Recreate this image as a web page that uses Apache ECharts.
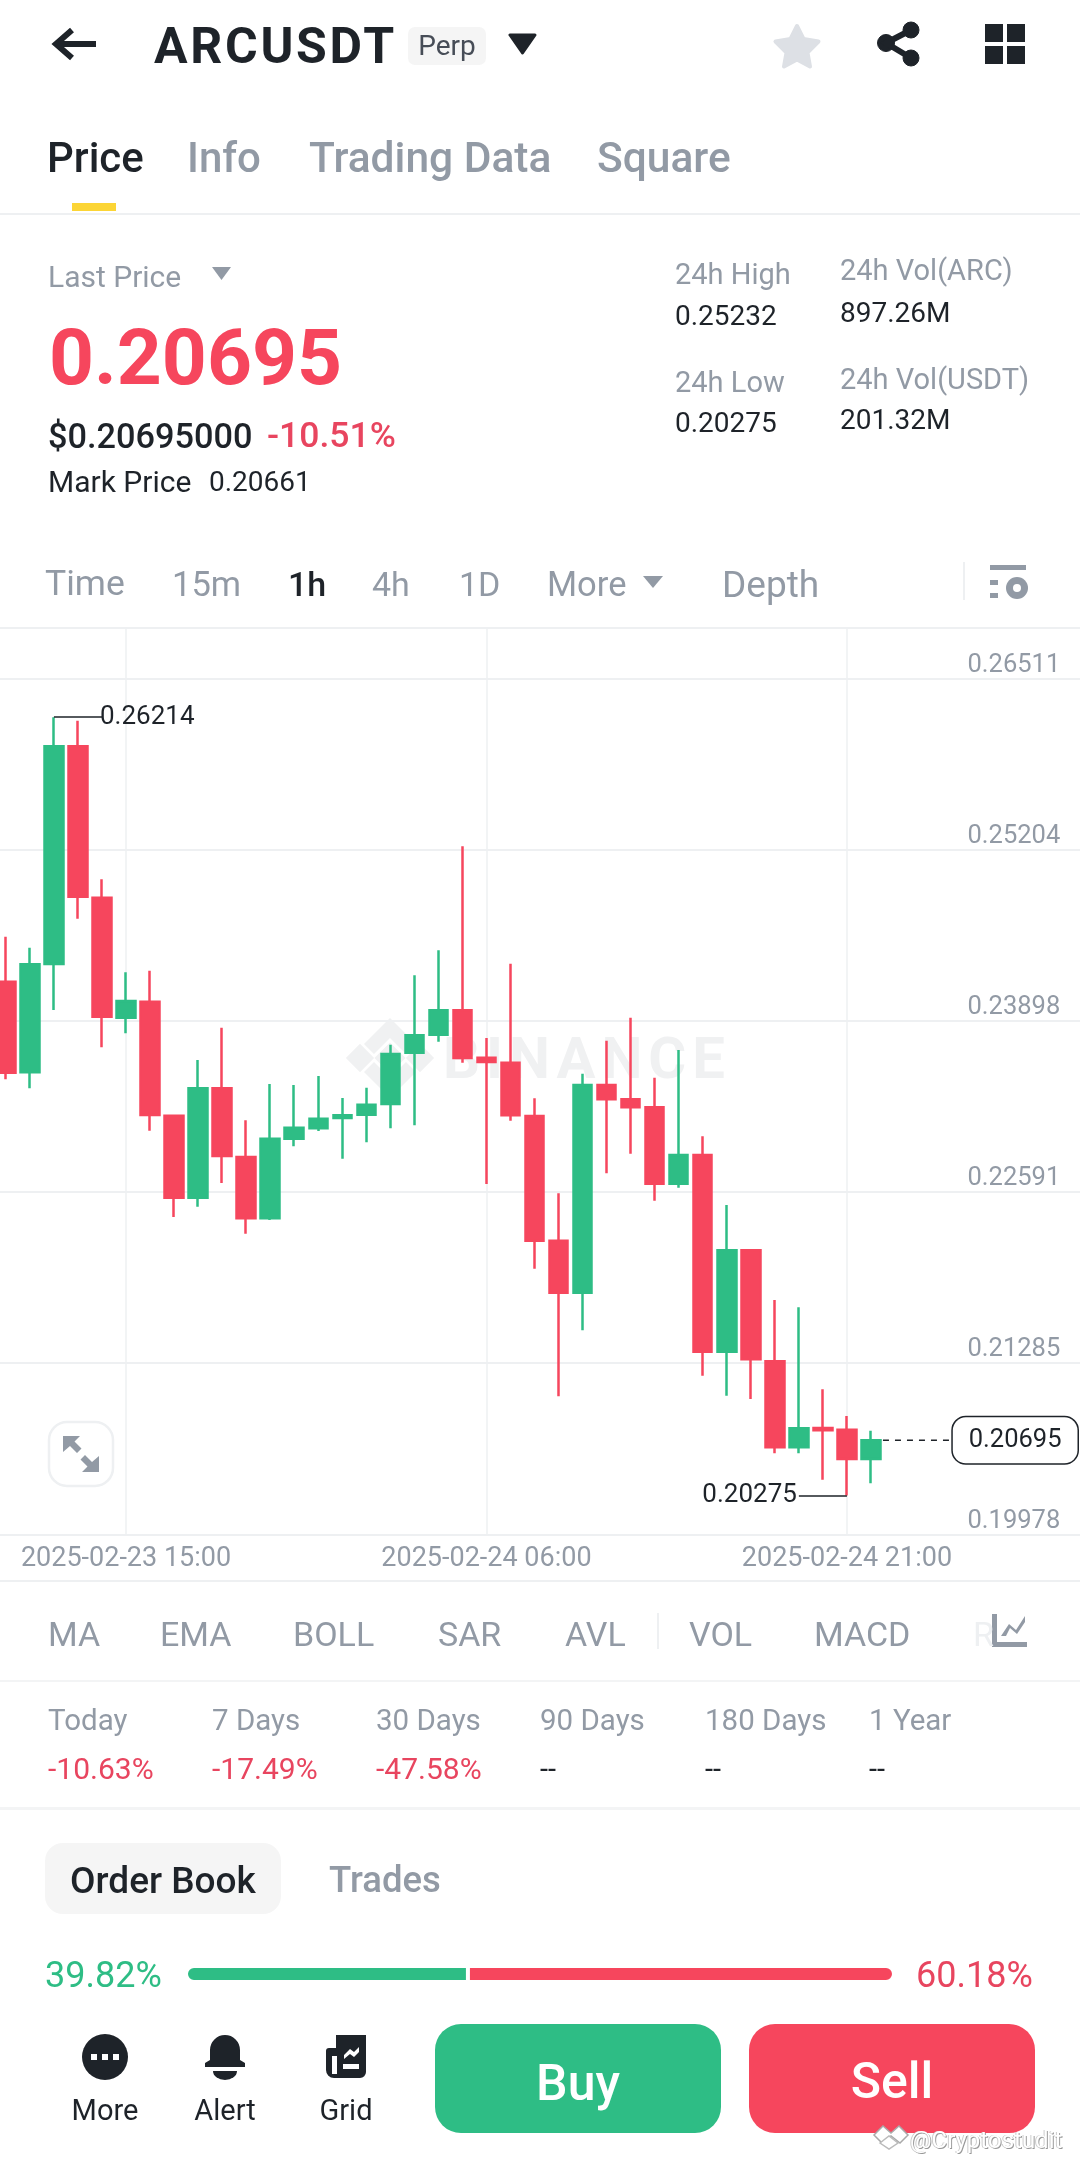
<!DOCTYPE html>
<html>
<head>
<meta charset="utf-8">
<title>ARCUSDT Perp</title>
<script src="https://cdn.jsdelivr.net/npm/echarts@6/dist/echarts.min.js"></script>
<style>
html,body{margin:0;padding:0;background:#fff;}
#page{position:relative;width:1080px;height:2160px;overflow:hidden;font-family:Roboto,sans-serif;color:#1E2329;}
#main{position:absolute;left:0;top:0;width:1080px;height:2160px;z-index:2;}
#logo{position:absolute;left:0;top:0;z-index:1;}
#icons{position:absolute;left:0;top:0;z-index:3;}
.t{position:absolute;white-space:nowrap;line-height:1;transform:translateY(-50%);z-index:4;}
.c{transform:translate(-50%,-50%);}
.g{color:#929AA5;}
.m{font-weight:500;}
.r{color:#E8455F;}
.hr{position:absolute;left:0;width:1080px;background:#EEF0F2;z-index:1;}
#chip1{position:absolute;left:408px;top:27px;width:78px;height:38px;background:#F5F5F5;border-radius:7px;}
#chip2{position:absolute;left:45px;top:1843px;width:236px;height:71px;background:#F5F5F5;border-radius:18px;}
#under{position:absolute;left:72px;top:203px;width:44px;height:8px;background:#FCD535;z-index:2;}
.btn{position:absolute;top:2024px;width:286px;height:109px;border-radius:26px;z-index:1;}
#wm{position:absolute;left:443px;top:1058px;transform:translateY(-50%);font-size:58px;font-weight:700;line-height:1;color:#F0F1F2;letter-spacing:6px;z-index:1;}
#mark{color:#fff;text-shadow:1px 1px 0 #999,-1px 0 0 #ccc;font-size:24px;}
</style>
</head>
<body>
<div id="page">
  <div id="chip1"></div><div id="chip2"></div><div id="under"></div>
  <div class="hr" style="top:213px;height:2px"></div>
  <div class="hr" style="top:627px;height:2px"></div>
  <div class="hr" style="top:1580px;height:2px"></div>
  <div class="hr" style="top:1680px;height:2px;background:#F3F4F5"></div>
  <div class="hr" style="top:1807px;height:3px;background:#F3F4F5"></div>
  <div id="wm">BINANCE</div>
  <svg id="logo" width="1080" height="2160" viewBox="0 0 1080 2160">
    <g fill="#F0F1F2">
      <rect x="350" y="1048" width="20" height="20" transform="rotate(45 360 1058)"/>
      <rect x="379" y="1047" width="22" height="22" transform="rotate(45 390 1058)"/>
      <rect x="410" y="1048" width="20" height="20" transform="rotate(45 420 1058)"/>
      <path d="M390 1018l26 26-10 10-16-16-16 16-10-10z"/>
      <path d="M390 1098l26-26-10-10-16 16-16-16-10 10z"/>
    </g>
  </svg>
  <div class="btn" style="left:435px;background:#2EBD85"></div>
  <div class="btn" style="left:749px;background:#F6465D"></div>

  <div id="main"></div>

  <svg id="icons" width="1080" height="2160" viewBox="0 0 1080 2160">
    <!-- back arrow -->
    <path d="M96 44H58M72 30L56 44l16 14" fill="none" stroke="#1E2329" stroke-width="6"/>
    <!-- dropdowns -->
    <path d="M510 35h25l-12.500 18z" fill="#1E2329" stroke="#1E2329" stroke-width="3" stroke-linejoin="round"/>
    <path d="M212 267h19l-9.500 13z" fill="#929AA5"/>
    <path d="M643 576h20l-10 12z" fill="#929AA5"/>
    <!-- star -->
    <path d="M797 26l6.500 13 15 2.500-11 11 2.500 14-13-7-13 7 2.500-14-11-11 15-2.500z" fill="#DDE0E5" stroke="#DDE0E5" stroke-width="4" stroke-linejoin="round"/>
    <!-- share -->
    <g fill="#1E2329" stroke="#1E2329"><circle cx="911" cy="30" r="8"/><circle cx="886" cy="43" r="8.500"/><circle cx="911" cy="58" r="8"/><path d="M911 30L886 43l25 15" fill="none" stroke-width="6"/></g>
    <!-- grid squares -->
    <g fill="#1E2329"><rect x="985" y="24" width="18" height="18"/><rect x="1007" y="24" width="18" height="18"/><rect x="985" y="46" width="18" height="18"/><rect x="1007" y="46" width="18" height="18"/></g>
    <!-- chart settings -->
    <path d="M964 562v38" stroke="#EEF0F2" stroke-width="2"/>
    <g fill="#929AA5"><rect x="990" y="565" width="36" height="5"/><rect x="990" y="580" width="8" height="5"/><rect x="990" y="593" width="8" height="5"/><circle cx="1017" cy="588" r="11"/><circle cx="1017" cy="588" r="4" fill="#fff"/></g>
    <!-- expand button -->
    <rect x="49" y="1422" width="64" height="64" rx="18" fill="#fff" stroke="#EEF0F2" stroke-width="2.500"/>
    <g fill="#929AA5"><path d="M63 1436h17l-5.500 5.500 7 7-4.500 4.500-7-7-7 6z"/><path d="M99 1472H82l5.500-5.500-7-7 4.500-4.500 7 7 7-6z"/></g>
    <!-- indicators icon and divider -->
    <path d="M658 1613v36" stroke="#EEF0F2" stroke-width="2"/>
    <path d="M992 1614h5v28h30v5h-35zM1001 1636l8-12 7 6 9-14v6l-8 12-7-6-4 8z" fill="#929AA5"/>
    <!-- more -->
    <circle cx="105" cy="2057" r="23" fill="#1E2329"/>
    <g fill="#fff"><rect x="91" y="2054" width="6" height="6"/><rect x="102" y="2054" width="6" height="6"/><rect x="113" y="2054" width="6" height="6"/></g>
    <!-- alert -->
    <path d="M205 2067v-4l5-3v-10a15 15 0 0 1 30 0v10l5 3v4z" fill="#1E2329"/>
    <path d="M213 2071h24a12 9 0 0 1-24 0z" fill="#1E2329"/>
    <!-- grid -->
    <path d="M336 2035h30v37a6 6 0 0 1-6 6h-26a8 8 0 0 1-8-8v-19a3 3 0 0 1 3-3h7z" fill="#1E2329"/>
    <path d="M332 2056h5v18h-5zM343 2064h16v5h-16zM344 2055l6-6 4 3 5-5v5l-5 5-4-3-6 5z" fill="#fff"/>
    <!-- repost mark -->
    <path d="M874 2135l9-9 8 7 8-7 9 9-8 8-9-7-9 7z" fill="#fff" stroke="#aaa" stroke-width="1.500"/>
    <path d="M880 2143l9-7 9 7-9 6z" fill="#fff" stroke="#bbb" stroke-width="1.500"/>
  </svg>

  <div class="t" style="left:154px;top:46px;font-size:50px;font-weight:700;letter-spacing:2.700px">ARCUSDT</div>
  <div class="t c" style="left:447px;top:46px;font-size:28px;color:#474D57">Perp</div>

  <div class="t m" style="left:47px;top:158px;font-size:42px">Price</div>
  <div class="t m g" style="left:187px;top:158px;font-size:42px">Info</div>
  <div class="t m g" style="left:309px;top:158px;font-size:42.500px">Trading Data</div>
  <div class="t m g" style="left:597px;top:158px;font-size:42.500px">Square</div>

  <div class="t g" style="left:48px;top:277px;font-size:30px">Last Price</div>
  <div class="t" style="left:49px;top:357px;font-size:78.500px;font-weight:700;color:#F6465D">0.20695</div>
  <div class="t m" style="left:48px;top:436px;font-size:34.300px">$0.20695000</div>
  <div class="t m r" style="left:267px;top:436px;font-size:35.500px">-10.51%</div>
  <div class="t" style="left:48px;top:482px;font-size:30px">Mark Price</div>
  <div class="t" style="left:209px;top:482px;font-size:28px">0.20661</div>

  <div class="t g" style="left:675px;top:274px;font-size:29px">24h High</div>
  <div class="t" style="left:675px;top:316px;font-size:28px">0.25232</div>
  <div class="t g" style="left:675px;top:382px;font-size:29px">24h Low</div>
  <div class="t" style="left:675px;top:423px;font-size:28px">0.20275</div>
  <div class="t g" style="left:840px;top:270px;font-size:29px">24h Vol(ARC)</div>
  <div class="t" style="left:840px;top:313px;font-size:28px">897.26M</div>
  <div class="t g" style="left:840px;top:379px;font-size:29px">24h Vol(USDT)</div>
  <div class="t" style="left:840px;top:420px;font-size:28px">201.32M</div>

  <div class="t g" style="left:45px;top:584px;font-size:35.500px">Time</div>
  <div class="t g" style="left:172px;top:584px;font-size:34.500px">15m</div>
  <div class="t m" style="left:288px;top:584px;font-size:34px">1h</div>
  <div class="t g" style="left:372px;top:584px;font-size:34px">4h</div>
  <div class="t g" style="left:459px;top:584px;font-size:34px">1D</div>
  <div class="t g" style="left:547px;top:584px;font-size:34.500px">More</div>
  <div class="t g" style="left:722px;top:584px;font-size:37px">Depth</div>

  <div class="t g" style="left:48px;top:1634px;font-size:34px">MA</div>
  <div class="t g" style="left:160px;top:1634px;font-size:34px">EMA</div>
  <div class="t g" style="left:293px;top:1634px;font-size:34px">BOLL</div>
  <div class="t g" style="left:438px;top:1634px;font-size:34px">SAR</div>
  <div class="t g" style="left:565px;top:1634px;font-size:34px">AVL</div>
  <div class="t g" style="left:689px;top:1634px;font-size:34px">VOL</div>
  <div class="t g" style="left:814px;top:1634px;font-size:34px">MACD</div>
  <div class="t" style="left:973px;top:1634px;font-size:34px;color:#EEF0F2">R</div>

  <div class="t g" style="left:48px;top:1721px;font-size:29.500px">Today</div>
  <div class="t g" style="left:212px;top:1721px;font-size:29.500px">7 Days</div>
  <div class="t g" style="left:376px;top:1721px;font-size:29.500px">30 Days</div>
  <div class="t g" style="left:540px;top:1721px;font-size:29.500px">90 Days</div>
  <div class="t g" style="left:705px;top:1721px;font-size:29.500px">180 Days</div>
  <div class="t g" style="left:869px;top:1721px;font-size:29.500px">1 Year</div>
  <div class="t r" style="left:48px;top:1769px;font-size:30px">-10.63%</div>
  <div class="t r" style="left:212px;top:1769px;font-size:30px">-17.49%</div>
  <div class="t r" style="left:376px;top:1769px;font-size:30px">-47.58%</div>
  <div class="t" style="left:540px;top:1769px;font-size:29px">--</div>
  <div class="t" style="left:705px;top:1769px;font-size:29px">--</div>
  <div class="t" style="left:869px;top:1769px;font-size:29px">--</div>

  <div class="t c m" style="left:163px;top:1880px;font-size:37px">Order Book</div>
  <div class="t m g" style="left:329px;top:1880px;font-size:36.500px">Trades</div>
  <div class="t" style="left:45px;top:1975px;font-size:36px;color:#2EBD85">39.82%</div>
  <div class="t r" style="left:916px;top:1975px;font-size:36px">60.18%</div>

  <div class="t c" style="left:105px;top:2110px;font-size:29px">More</div>
  <div class="t c" style="left:225px;top:2110px;font-size:29px">Alert</div>
  <div class="t c" style="left:346px;top:2110px;font-size:29px">Grid</div>
  <div class="t c m" style="left:578px;top:2083px;font-size:50px;color:#fff">Buy</div>
  <div class="t c m" style="left:892px;top:2081px;font-size:50px;color:#fff">Sell</div>
  <div class="t" id="mark" style="left:910px;top:2140px">@Cryptostudit</div>
</div>

<script>
var categories = [
    '2025-02-23 10:00','2025-02-23 11:00','2025-02-23 12:00','2025-02-23 13:00','2025-02-23 14:00',
    '2025-02-23 15:00','2025-02-23 16:00','2025-02-23 17:00','2025-02-23 18:00','2025-02-23 19:00',
    '2025-02-23 20:00','2025-02-23 21:00','2025-02-23 22:00','2025-02-23 23:00','2025-02-24 00:00',
    '2025-02-24 01:00','2025-02-24 02:00','2025-02-24 03:00','2025-02-24 04:00','2025-02-24 05:00',
    '2025-02-24 06:00','2025-02-24 07:00','2025-02-24 08:00','2025-02-24 09:00','2025-02-24 10:00',
    '2025-02-24 11:00','2025-02-24 12:00','2025-02-24 13:00','2025-02-24 14:00','2025-02-24 15:00',
    '2025-02-24 16:00','2025-02-24 17:00','2025-02-24 18:00','2025-02-24 19:00','2025-02-24 20:00',
    '2025-02-24 21:00','2025-02-24 22:00'
];
var opens = [
    0.24195,0.23504,0.24330,0.25992,0.24837,0.23921,0.24043,0.23173,0.22547,0.23382,
    0.22858,0.22390,0.22997,0.23077,0.23155,0.23180,0.23262,0.23654,0.23791,0.23977,
    0.23615,0.23577,0.23170,0.22219,0.21822,0.23407,0.23298,0.23237,0.22654,0.22873,
    0.21372,0.22145,0.21298,0.20642,0.20789,0.20776,0.20553
];
var closes = [
    0.23501,0.24328,0.25992,0.24844,0.23928,0.24048,0.23178,0.22547,0.23382,0.22865,
    0.22390,0.22997,0.23081,0.23150,0.23176,0.23257,0.23644,0.23786,0.23977,0.23613,
    0.23583,0.23176,0.22219,0.21822,0.23407,0.23298,0.23237,0.22654,0.22873,0.21372,
    0.22145,0.21314,0.20642,0.20787,0.20772,0.20553,0.20695
];
var lows = [
    0.23451,0.23382,0.23979,0.24676,0.23695,0.23802,0.23058,0.22400,0.22478,0.22659,
    0.22272,0.22377,0.22939,0.23056,0.22845,0.22970,0.23077,0.23099,0.23738,0.23577,
    0.22651,0.23135,0.22005,0.21031,0.21535,0.22733,0.22883,0.22524,0.22623,0.21188,
    0.21036,0.21011,0.20596,0.20596,0.20395,0.20275,0.20367
];
var highs = [
    0.24539,0.24455,0.26214,0.26187,0.24977,0.24267,0.24279,0.23173,0.23598,0.23844,
    0.23138,0.23415,0.23407,0.23476,0.23308,0.23386,0.23715,0.24244,0.24435,0.25229,
    0.23766,0.24333,0.23306,0.22580,0.23493,0.23745,0.23921,0.23463,0.23674,0.23016,
    0.22491,0.22155,0.21766,0.21710,0.21085,0.20881,0.20769
];
var priceTicks = [0.19978,0.21285,0.22591,0.23898,0.25204,0.26511];
var timeTickIndexes = [5,20,35];
var lastPrice = 0.20695;
var highPrice = 0.26214;
var lowPrice = 0.20275;
var buyShare = [39.82];
var sellShare = [60.18];

var GREEN = '#2EBD85', RED = '#F6465D', INK = '#1E2329', GREY = '#929AA5', RULE = '#EEF0F2';

// empty hours to the right of the last candle
var xCategories = categories.slice();
while (xCategories.length < 46) {
    xCategories.push('');
}

var candleData = [];
for (var i = 0; i < categories.length; i++) {
    candleData.push([opens[i], closes[i], lows[i], highs[i]]);
}

// dashed line from the last candle to the price box
var lastLine = xCategories.map(function (c, i) {
    return i >= 36 && i <= 40 ? lastPrice : null;
});

function isTimeTick(index) {
    return timeTickIndexes.indexOf(index) >= 0;
}

var myChart = echarts.init(document.getElementById('main'));
var option = {
    animation: false,
    backgroundColor: 'transparent',
    textStyle: {fontFamily: 'Roboto'},
    grid: [
        // the price grid runs past the page edges, so no outer bounds
        {left: -6.15, top: 628, width: 1105.4, height: 906.3, outerBoundsMode: 'none'},
        {left: 186, top: 1966, width: 708, height: 16, outerBoundsMode: 'none'}
    ],
    xAxis: [
        {
            type: 'category',
            data: xCategories,
            axisLine: {lineStyle: {color: RULE, width: 2}},
            axisTick: {show: false},
            axisLabel: {
                interval: function (index) { return isTimeTick(index); },
                color: GREY,
                fontSize: 27,
                margin: 11
            },
            splitLine: {
                show: true,
                alignWithLabel: true,
                interval: function (index) { return isTimeTick(index); },
                lineStyle: {color: RULE, width: 1.5}
            }
        },
        {type: 'value', gridIndex: 1, min: 0, max: 100, show: false}
    ],
    yAxis: [
        {
            type: 'value',
            position: 'right',
            min: 0.19978,
            max: 0.26895,
            axisLine: {show: false},
            axisTick: {show: false, customValues: priceTicks},
            axisLabel: {
                inside: true,
                customValues: priceTicks,
                formatter: function (v) { return v.toFixed(5); },
                color: GREY,
                fontSize: 25.5,
                margin: 39,
                verticalAlign: 'bottom',
                padding: [2, 0, 0, 0]
            },
            splitLine: {show: true, lineStyle: {color: RULE, width: 2}}
        },
        {type: 'category', gridIndex: 1, data: ['book'], show: false}
    ],
    series: [
        {
            name: 'last',
            type: 'line',
            z: 1,
            data: lastLine,
            symbol: 'none',
            lineStyle: {color: INK, width: 1.5, type: [6, 6]}
        },
        {
            name: 'ARCUSDT',
            type: 'candlestick',
            z: 2,
            data: candleData,
            barWidth: 19,
            itemStyle: {color: GREEN, color0: RED, borderColor: GREEN, borderColor0: RED, borderWidth: 2.5},
            markLine: {
                silent: true,
                symbol: 'none',
                lineStyle: {color: INK, width: 1.5, type: 'solid'},
                label: {color: INK, fontSize: 26, position: 'end', distance: -2, padding: [7, 0, 0, 0]},
                data: [
                    [{coord: [2, highPrice]}, {coord: [4, highPrice], label: {formatter: highPrice.toFixed(5)}}],
                    [{coord: [35, lowPrice]}, {coord: [33, lowPrice], label: {formatter: lowPrice.toFixed(5), distance: 2}}]
                ]
            },
            markPoint: {
                silent: true,
                symbol: 'circle',
                symbolSize: 0,
                data: [{coord: [42, lastPrice]}],
                label: {
                    show: true,
                    position: 'inside',
                    formatter: lastPrice.toFixed(5),
                    color: INK,
                    fontSize: 25.5,
                    backgroundColor: '#fff',
                    borderColor: INK,
                    borderWidth: 1.5,
                    borderRadius: 13,
                    padding: [13, 16, 7, 16]
                }
            }
        },
        {
            name: 'Buy',
            type: 'bar',
            xAxisIndex: 1,
            yAxisIndex: 1,
            stack: 'book',
            barWidth: 16,
            data: buyShare,
            itemStyle: {color: GREEN, borderColor: '#fff', borderWidth: 2, borderRadius: [8, 0, 0, 8]}
        },
        {
            name: 'Sell',
            type: 'bar',
            xAxisIndex: 1,
            yAxisIndex: 1,
            stack: 'book',
            barWidth: 16,
            data: sellShare,
            itemStyle: {color: RED, borderColor: '#fff', borderWidth: 2, borderRadius: [0, 8, 8, 0]}
        }
    ]
};
myChart.setOption(option);
</script>
</body>
</html>
